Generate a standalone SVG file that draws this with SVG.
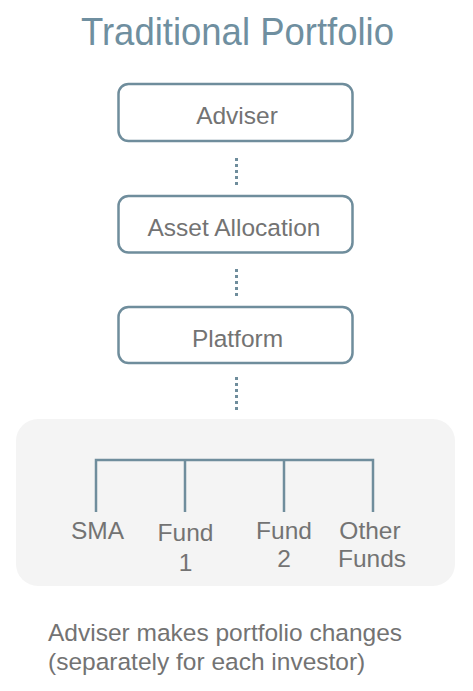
<svg xmlns="http://www.w3.org/2000/svg" width="473" height="691" viewBox="0 0 473 691">
<style>
.box{fill:#fff;stroke:#6f8d9c;stroke-width:2.5}
.lbl{font-family:"Liberation Sans",Arial,sans-serif;font-size:24.5px;fill:#737373;text-anchor:middle}
.dot{stroke:#6f8d9c;stroke-width:3;stroke-dasharray:3 3;fill:none}
.tree{stroke:#6f8d9c;stroke-width:2.5;fill:none}
</style>
<rect width="473" height="691" fill="#fff"/>
<text x="237.5" y="45" font-family="'Liberation Sans',Arial,sans-serif" font-size="39" fill="#6f8fa0" text-anchor="middle" textLength="313" lengthAdjust="spacingAndGlyphs">Traditional Portfolio</text>
<g id="connectors">
<line class="dot" x1="236.5" y1="158" x2="236.5" y2="186"/>
<line class="dot" x1="236.5" y1="269" x2="236.5" y2="297"/>
<line class="dot" x1="236.5" y1="377" x2="236.5" y2="413"/>
</g>
<g id="adviser">
<rect class="box" x="118.5" y="84" width="234" height="57" rx="10"/>
<text class="lbl" x="237" y="124">Adviser</text>
</g>
<g id="asset-allocation">
<rect class="box" x="118.5" y="196" width="234" height="56.5" rx="10"/>
<text class="lbl" x="234" y="236">Asset Allocation</text>
</g>
<g id="platform">
<rect class="box" x="118.5" y="307" width="234" height="56" rx="10"/>
<text class="lbl" x="237.5" y="347">Platform</text>
</g>
<g id="investments">
<rect x="16" y="419" width="439" height="167" rx="22" fill="#f4f4f4"/>
<path class="tree" d="M96 512V460H373V512M185 460V512M284 460V512"/>
<text class="lbl" x="97.5" y="539">SMA</text>
<text class="lbl" x="185.5" y="541">Fund</text>
<text class="lbl" x="185.5" y="571">1</text>
<text class="lbl" x="284" y="539">Fund</text>
<text class="lbl" x="284" y="567">2</text>
<text class="lbl" x="370" y="539">Other</text>
<text class="lbl" x="372" y="567">Funds</text>
</g>
<g id="note">
<text class="lbl" x="48" y="641" style="text-anchor:start">Adviser makes portfolio changes</text>
<text class="lbl" x="48" y="670" style="text-anchor:start">(separately for each investor)</text>
</g>
</svg>
